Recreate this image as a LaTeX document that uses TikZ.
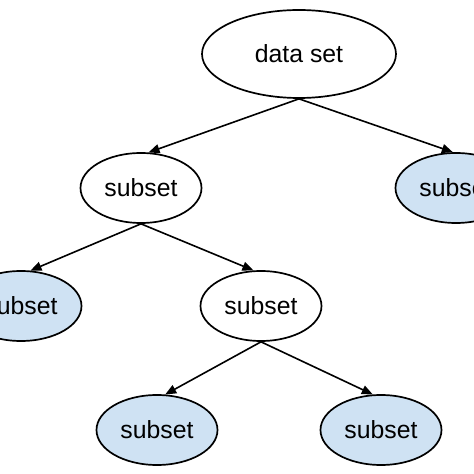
\documentclass[tikz,border=0pt]{standalone}
\usepackage{fontspec}
\setmainfont{Liberation Sans}
\usetikzlibrary{shapes.geometric,arrows.meta}
\definecolor{leafblue}{HTML}{CFE2F3}
\begin{document}
\begin{tikzpicture}[x=1pt,y=1pt,
inner/.style={draw, ellipse, line width=1.7pt, minimum width=121pt, minimum height=70pt, inner sep=0pt, font=\fontsize{24.8}{28}\selectfont},
leaf/.style={inner, fill=leafblue},
arrow/.style={-{Triangle[length=11pt,width=9pt]}, line width=1.6pt}
]
\useasboundingbox (0,0) rectangle (474,474);
\clip (0,0) rectangle (474,474);
\node[inner, minimum width=194pt, minimum height=88pt] (data) at (299,420) {data set};
\node[inner] (sub1) at (141,286) {subset};
\node[leaf] (leaf1) at (456,286) {subset};
\node[leaf] (leaf2) at (21,168) {subset};
\node[inner] (sub2) at (261,168) {subset};
\node[leaf] (leaf3) at (157,44) {subset};
\node[leaf] (leaf4) at (381,44) {subset};
\draw[arrow] (data.south) -- (sub1.78);
\draw[arrow] (data.south) -- (leaf1.95);
\draw[arrow] (sub1.south) -- (leaf2.75);
\draw[arrow] (sub1.south) -- (sub2.102);
\draw[arrow] (sub2.south) -- (leaf3.77);
\draw[arrow] (sub2.south) -- (leaf4.103);
\end{tikzpicture}
\end{document}
